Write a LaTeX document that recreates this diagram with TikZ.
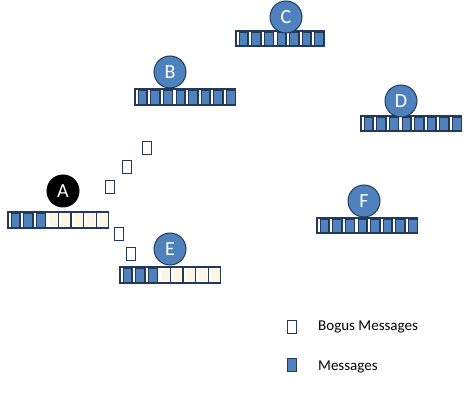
\documentclass[tikz,border=0pt]{standalone}
\usepackage{fontspec}
\setmainfont{Carlito}
\definecolor{msgblue}{HTML}{4F81BD}
\definecolor{msgline}{HTML}{22395C}
\definecolor{bogusfill}{HTML}{FEF5E2}
\tikzset{
  peer/.style={circle, fill=msgblue, draw=msgline, line width=1pt, minimum size=32pt,
    inner sep=0pt, text=white, font=\fontsize{20}{20}\selectfont},
  slot/.style={draw=msgline, line width=1.3pt, fill=white},
  msgcell/.style={draw=msgline, line width=0.6pt, fill=msgblue},
  boguscell/.style={fill=bogusfill},
  bogusbox/.style={rectangle, draw=msgline, line width=1.4pt, fill=white,
    minimum width=9pt, minimum height=13pt, inner sep=0pt},
  msgbox/.style={bogusbox, fill=msgblue},
  legendtext/.style={anchor=west, inner sep=0pt, font=\fontsize{15}{15}\selectfont}
}
\begin{document}
\begin{tikzpicture}[x=1pt, y=-1pt]
    \useasboundingbox (0,0) rectangle (474,411);
    \def\cw{12.6}

    % Queue of A, three messages then bogus ones
    \begin{scope}[shift={(8,212)}]
        \foreach \i in {0,...,7} {
            \draw[slot] (\i*\cw,0) rectangle ++(\cw,16);
        }
        \foreach \i in {0,1,2} {
            \draw[msgcell] (\i*\cw+3,1) rectangle ++(\cw-4,14);
        }
        \foreach \i in {3,...,7} {
            \fill[boguscell] (\i*\cw+3,1.5) rectangle ++(\cw-4,13);
        }
    \end{scope}

    % Queue of B
    \begin{scope}[shift={(135,89)}]
        \foreach \i in {0,...,7} {
            \draw[slot] (\i*\cw,0) rectangle ++(\cw,16);
            \draw[msgcell] (\i*\cw+3,1) rectangle ++(\cw-4,14);
        }
    \end{scope}

    % Queue of C
    \begin{scope}[shift={(236,31)}]
        \foreach \i in {0,...,6} {
            \draw[slot] (\i*\cw,0) rectangle ++(\cw,15);
            \draw[msgcell] (\i*\cw+3,1) rectangle ++(\cw-4,13);
        }
    \end{scope}

    % Queue of D
    \begin{scope}[shift={(361,116)}]
        \foreach \i in {0,...,7} {
            \draw[slot] (\i*\cw,0) rectangle ++(\cw,15);
            \draw[msgcell] (\i*\cw+3,1) rectangle ++(\cw-4,13);
        }
    \end{scope}

    % Queue of E, filled by the bogus messages of A
    \begin{scope}[shift={(120,267)}]
        \foreach \i in {0,...,7} {
            \draw[slot] (\i*\cw,0) rectangle ++(\cw,16);
        }
        \foreach \i in {0,1,2} {
            \draw[msgcell] (\i*\cw+3,1) rectangle ++(\cw-4,14);
        }
        \foreach \i in {3,...,7} {
            \fill[boguscell] (\i*\cw+3,1.5) rectangle ++(\cw-4,13);
        }
    \end{scope}

    % Queue of F
    \begin{scope}[shift={(317,218)}]
        \foreach \i in {0,...,7} {
            \draw[slot] (\i*\cw,0) rectangle ++(\cw,15);
            \draw[msgcell] (\i*\cw+3,1) rectangle ++(\cw-4,13);
        }
    \end{scope}

    % Peers
    \node[peer, fill=black, draw=black] (peerA) at (63,191) {A};
    \node[peer] (peerB) at (170,72) {B};
    \node[peer] (peerC) at (286,17) {C};
    \node[peer] (peerD) at (401,101) {D};
    \node[peer] (peerE) at (170,249) {E};
    \node[peer] (peerF) at (364,201) {F};

    % Bogus messages on their way
    \node[bogusbox] (bogus1) at (147,148) {};
    \node[bogusbox] (bogus2) at (127,167) {};
    \node[bogusbox] (bogus3) at (110,187) {};
    \node[bogusbox] (bogus4) at (119,234) {};
    \node[bogusbox] (bogus5) at (131,254) {};

    % Legend
    \node[bogusbox] (keyBogus) at (292,327) {};
    \node[legendtext] (keyBogusText) at (318,327) {Bogus Messages};
    \node[msgbox] (keyMsg) at (292,365) {};
    \node[legendtext] (keyMsgText) at (318,367) {Messages};

\end{tikzpicture}
\end{document}
